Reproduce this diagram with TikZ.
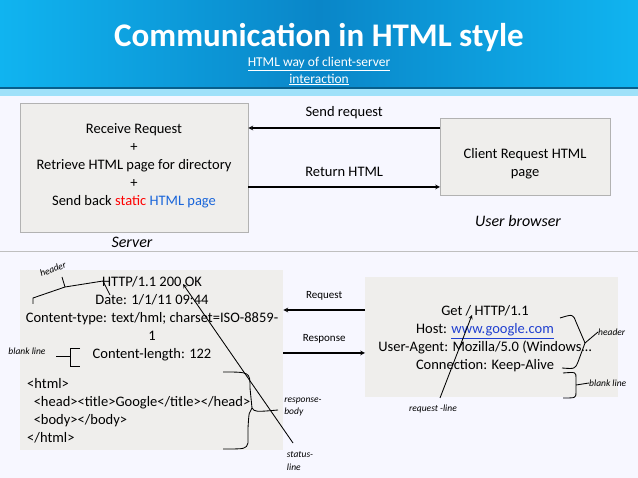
\documentclass[tikz,border=0pt]{standalone}
\usepackage{fontspec}
\setmainfont{Carlito}
\usetikzlibrary{calc}
\definecolor{boxgray}{HTML}{EFEEEC}
\definecolor{bandblue}{HTML}{0A86C8}
\definecolor{skyblue}{HTML}{10B4F0}
\definecolor{linkblue}{HTML}{1F3FD0}
\tikzset{
  box/.style = {draw=gray!60, fill=boxgray, anchor=north west, inner sep=0pt},
  txt/.style = {font=\fontsize{14.5}{18}\selectfont, inner sep=0pt},
  note/.style = {font=\fontsize{9.5}{12.5}\selectfont\itshape, inner sep=0pt, align=left},
  arr/.style = {>=stealth, ->, line width = 0.4mm},
  brace/.style = {line width = 0.3mm}
}
\begin{document}
\begin{tikzpicture}[x=1pt, y=-1pt]
    \useasboundingbox (0, 0) rectangle (638, 478);
    \fill[blue!3] (0, 0) rectangle (638, 478);
    \fill[skyblue!40] (0, 88) rectangle (638, 96);
    \fill[left color=skyblue, right color=skyblue, middle color=bandblue] (0, 0) rectangle (638, 88);
    \draw[bandblue!70!black, line width = 0.4mm] (0, 88) -- (638, 88);
    \node[font=\fontsize{33}{36}\selectfont\bfseries, text=white] (title) at (319, 37) {Communication in HTML style};
    \node[font=\fontsize{13.5}{17}\selectfont, text=white, align=center] (sub) at (319, 71) {\underline{HTML way of client-server}\\\underline{interaction}};

    % upper part
    \node[box, minimum width=228, minimum height=129] (srv) at (20, 103) {};
    \node[txt, align=center] (srvtxt) at (134, 166) {Receive Request\\+\\Retrieve HTML page for directory\\+\\Send back \textcolor{red}{static} \textcolor{linkblue!80!cyan}{HTML page}};
    \node[txt, font=\fontsize{16}{18}\selectfont\itshape] (srvlab) at (132, 242) {Server};
    \node[box, minimum width=170, minimum height=77] (cli) at (440, 118) {};
    \node[txt, align=center] (clitxt) at (525, 164) {Client Request HTML\\page};
    \node[txt, font=\fontsize{16}{18}\selectfont\itshape] (clilab) at (518, 221) {User browser};
    \coordinate (sr) at (srv.east |- 0, 128);
    \coordinate (cr) at (cli.west |- 0, 128);
    \draw[arr] (cr) -- node[txt, above=9pt] {Send request} (sr);
    \coordinate (sh) at (srv.east |- 0, 187);
    \coordinate (ch) at (cli.west |- 0, 187);
    \draw[arr] (sh) -- node[txt, above=10pt] {Return HTML} (ch);
    \draw[gray!50] (0, 251) -- (638, 251);

    % lower part: response
    \node[box, draw=none, minimum width=263, minimum height=180] (resp) at (20, 270) {};
    \node[txt, align=center] (resphead) at (152, 319) {HTTP/1.1 200 OK\\Date: 1/1/11 09:44\\Content-type: text/hml; charset=ISO-8859-\\1\\Content-length: 122};
    \node[txt, align=left, anchor=north west] (respbody) at (27, 378) {<html>\\\ \ <head><title>Google</title></head>\\\ \ <body></body>\\</html>};
    % request
    \node[box, draw=none, minimum width=253, minimum height=120] (req) at (365, 277) {};
    \node[txt, align=center] (reqtxt) at (485, 339) {Get / HTTP/1.1\\Host: \textcolor{linkblue}{\underline{www.google.com}}\\User-Agent: Mozilla/5.0 (Windows…\\Connection: Keep-Alive};
    \coordinate (rq1) at (req.west |- 0, 310);
    \coordinate (rq2) at (resp.east |- 0, 310);
    \draw[arr] (rq1) -- node[txt, font=\fontsize{11}{13}\selectfont, above=9pt] {Request} (rq2);
    \coordinate (rs1) at (resp.east |- 0, 353);
    \coordinate (rs2) at (req.west |- 0, 353);
    \draw[arr] (rs1) -- node[txt, font=\fontsize{11}{13}\selectfont, above=9pt] {Response} (rs2);

    % annotations
    \node[note, rotate=20] (hdl) at (53, 269) {header};
    \draw[brace] (33, 304) -- (33, 298) -- (65, 287) -- (103, 281) -- (110, 295);
    \draw[brace] (65, 287) -- (62, 277);
    \node[note] (blk) at (27, 351) {blank line};
    \draw[brace] (56, 356) -- (70, 356);
    \draw[brace] (80, 348) -- (70, 348) -- (70, 366) -- (80, 366);
    \draw[brace] (223, 372) .. controls (250, 372) .. (250, 388) -- (252, 408) .. controls (255, 412) .. (278, 410);
    \draw[brace] (252, 408) .. controls (249, 412) .. (248, 428) -- (248, 443) .. controls (246, 449) .. (223, 449);
    \node[note] (rbl) at (303, 407) {response-\\body};
    \node[note] (stl) at (300, 461) {status-\\line};
    \coordinate (stt) at (293, 443);
    \draw[arr, line width = 0.3mm] (stt) -- (183, 284);
    \node[note] (rql) at (433, 409) {request -line};
    \coordinate (rqt) at (440, 398);
    \draw[arr, line width = 0.3mm] (rqt) -- (472, 315);
    \draw[brace] (560, 318) .. controls (573, 314) .. (576, 322) -- (585, 343) -- (578, 362) .. controls (575, 369) .. (562, 368);
    \node[note, anchor=west] (hdr) at (598, 332) {header};
    \draw[brace] (585, 343) -- (598, 332);
    \draw[brace] (563, 373) .. controls (576, 372) .. (576, 378) -- (576, 392) .. controls (576, 398) .. (563, 398);
    \node[note, anchor=west] (bkr) at (589, 383) {blank line};
    \draw[brace] (576, 385) -- (589, 383);
\end{tikzpicture}
\end{document}
